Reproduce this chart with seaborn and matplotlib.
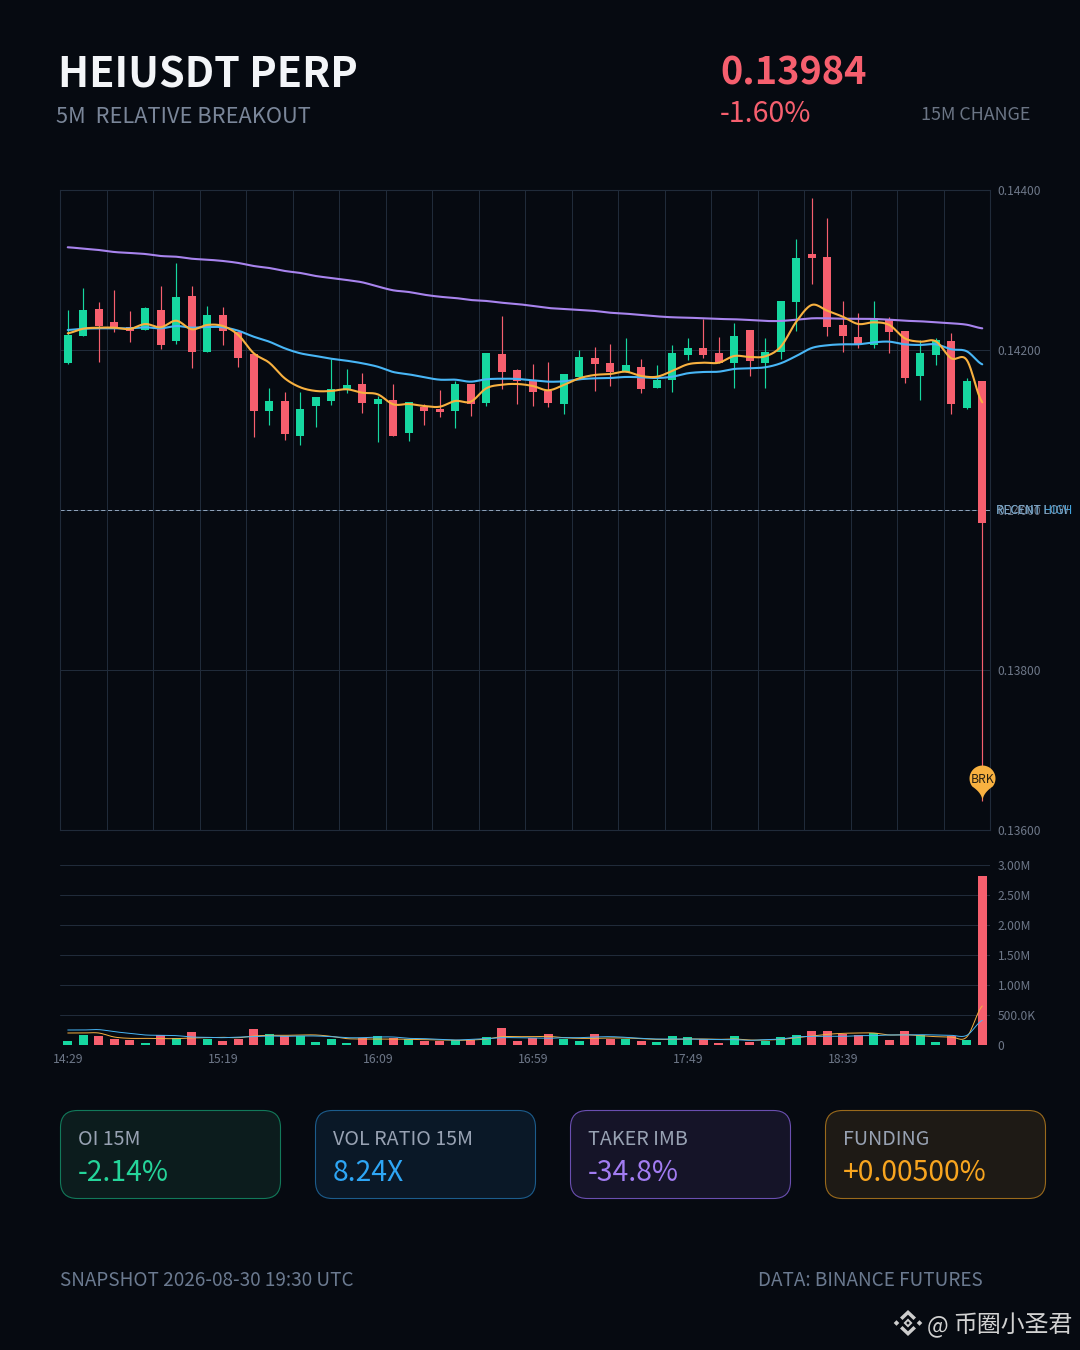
import numpy as np
import pandas as pd
import matplotlib
matplotlib.use("Agg")
import matplotlib.pyplot as plt
from matplotlib.patches import FancyBboxPatch, Polygon
from matplotlib.path import Path
import seaborn as sns

# ---------- data ----------
opens = [0.14184,0.14218,0.14251,0.14235,0.14229,0.14225,0.14250,0.14211,0.14268,0.14198,0.14244,0.14223,0.14195,0.14124,0.14136,0.14093,0.14130,0.14136,0.14150,0.14158,
         0.14133,0.14138,0.14096,0.14129,0.14126,0.14124,0.14158,0.14134,0.14195,0.14175,0.14161,0.14149,0.14133,0.14166,0.14190,0.14184,0.14173,0.14179,0.14153,0.14163,
         0.14194,0.14203,0.14196,0.14184,0.14225,0.14184,0.14198,0.14260,0.14320,0.14316,0.14231,0.14216,0.14206,0.14238,0.14224,0.14168,0.14194,0.14211,0.14128,0.14161]
highs = [0.14250,0.14278,0.14260,0.14275,0.14249,0.14254,0.14280,0.14309,0.14280,0.14255,0.14254,0.14223,0.14195,0.14153,0.14148,0.14148,0.14141,0.14189,0.14176,0.14171,
         0.14143,0.14158,0.14135,0.14133,0.14150,0.14161,0.14158,0.14196,0.14243,0.14176,0.14183,0.14185,0.14170,0.14200,0.14204,0.14208,0.14215,0.14189,0.14181,0.14206,
         0.14215,0.14239,0.14216,0.14234,0.14225,0.14215,0.14261,0.14339,0.14390,0.14365,0.14261,0.14246,0.14261,0.14241,0.14224,0.14213,0.14215,0.14221,0.14165,0.14161]
lows = [0.14183,0.14218,0.14185,0.14223,0.14210,0.14225,0.14201,0.14208,0.14178,0.14198,0.14206,0.14179,0.14091,0.14106,0.14088,0.14081,0.14104,0.14131,0.14146,0.14121,
        0.14085,0.14093,0.14086,0.14106,0.14116,0.14103,0.14118,0.14130,0.14151,0.14133,0.14130,0.14129,0.14120,0.14164,0.14149,0.14155,0.14173,0.14146,0.14153,0.14148,
        0.14188,0.14190,0.14184,0.14153,0.14168,0.14153,0.14189,0.14224,0.14283,0.14218,0.14198,0.14203,0.14203,0.14196,0.14159,0.14138,0.14181,0.14120,0.14126,0.13636]
closes = [0.14219,0.14250,0.14230,0.14228,0.14224,0.14253,0.14206,0.14266,0.14198,0.14244,0.14224,0.14190,0.14124,0.14136,0.14095,0.14126,0.14141,0.14151,0.14156,0.14134,
          0.14139,0.14093,0.14135,0.14124,0.14123,0.14158,0.14133,0.14196,0.14173,0.14161,0.14148,0.14134,0.14170,0.14191,0.14183,0.14173,0.14181,0.14151,0.14163,0.14196,
          0.14203,0.14194,0.14184,0.14218,0.14186,0.14198,0.14261,0.14315,0.14315,0.14229,0.14218,0.14206,0.14240,0.14223,0.14165,0.14196,0.14213,0.14133,0.14161,0.13984]
ma_fast = [0.142209,0.142266,0.142279,0.142279,0.142263,0.142325,0.142284,0.142366,0.142259,0.142313,0.142300,0.142188,0.141959,0.141841,0.141646,0.141534,0.141488,0.141488,0.141509,0.141466,
           0.141446,0.141321,0.141325,0.141300,0.141291,0.141363,0.141354,0.141521,0.141566,0.141575,0.141550,0.141496,0.141563,0.141646,0.141688,0.141700,0.141729,0.141675,0.141666,0.141738,
           0.141821,0.141841,0.141841,0.141925,0.141913,0.141921,0.142041,0.142354,0.142563,0.142491,0.142416,0.142325,0.142346,0.142313,0.142146,0.142104,0.142109,0.141896,0.141875,0.141346]
ma_mid = [0.142250,0.142266,0.142271,0.142271,0.142271,0.142284,0.142271,0.142300,0.142279,0.142288,0.142284,0.142241,0.142166,0.142104,0.142021,0.141959,0.141925,0.141891,0.141866,0.141834,
          0.141791,0.141725,0.141696,0.141659,0.141629,0.141629,0.141604,0.141634,0.141641,0.141638,0.141621,0.141604,0.141609,0.141634,0.141646,0.141650,0.141663,0.141659,0.141650,0.141666,
          0.141709,0.141725,0.141729,0.141763,0.141771,0.141784,0.141834,0.141925,0.142025,0.142059,0.142071,0.142071,0.142096,0.142104,0.142071,0.142063,0.142071,0.142009,0.141984,0.141821]
ma_slow = [0.143284,0.143266,0.143250,0.143225,0.143213,0.143200,0.143175,0.143166,0.143141,0.143129,0.143113,0.143088,0.143050,0.143025,0.142988,0.142963,0.142925,0.142900,0.142875,0.142846,
           0.142794,0.142746,0.142725,0.142691,0.142666,0.142650,0.142625,0.142613,0.142591,0.142575,0.142550,0.142525,0.142513,0.142500,0.142488,0.142466,0.142454,0.142438,0.142421,0.142409,
           0.142404,0.142396,0.142388,0.142384,0.142375,0.142363,0.142363,0.142379,0.142396,0.142396,0.142391,0.142391,0.142388,0.142379,0.142366,0.142359,0.142346,0.142334,0.142316,0.142271]
volumes_k = [67,161,156,106,83,33,167,111,211,106,72,94,261,178,150,156,50,94,28,122,
             150,122,94,67,67,83,83,139,283,72,111,183,94,72,178,100,94,72,50,144,
             128,94,33,156,50,72,128,172,233,233,189,167,194,83,233,167,44,156,83,2820]
vol_ma_fast_k = [200,200,200,133,111,111,106,106,117,122,128,122,150,161,161,167,167,144,106,100,
                 100,100,94,89,83,78,83,100,139,139,139,144,122,111,111,117,117,106,94,94,
                 100,100,94,100,83,83,94,122,150,178,194,200,200,167,172,156,139,133,133,650]
vol_ma_mid_k = [250,250,256,222,194,167,161,156,133,128,122,133,139,150,144,150,150,139,122,122,
                133,133,111,106,94,83,94,106,122,122,117,111,122,122,133,139,128,111,100,100,
                100,94,89,89,78,89,100,133,144,144,144,156,156,167,167,172,167,161,161,411]
time_labels = ["14:29", "15:19", "16:09", "16:59", "17:49", "18:39"]
time_every = 10
price_ticks = [0.136, 0.138, 0.140, 0.142, 0.144]
vol_ticks = [0, 0.5e6, 1e6, 1.5e6, 2e6, 2.5e6, 3e6]
vol_tick_labels = ["0", "500.0K", "1.00M", "1.50M", "2.00M", "2.50M", "3.00M"]
level_price = 0.14000
breakout_low = lows[-1]
card_titles = ["OI 15M", "VOL RATIO 15M", "TAKER IMB", "FUNDING"]
card_values = ["-2.14%", "8.24X", "-34.8%", "+0.00500%"]

# ---------- style ----------
BG = "#060a11"
GRID = "#202b3a"
GREEN = "#16d7a0"
RED = "#f65f6e"
ORANGE = "#f8b140"
BLUE = "#48b6f6"
PURPLE = "#a884ee"
TICK = "#6d7788"

sns.set_theme(style="dark", rc={"figure.facecolor": BG, "axes.facecolor": BG})
plt.rcParams["font.family"] = ["Noto Sans CJK SC", "DejaVu Sans"]

W, H = 1080, 1350
fig = plt.figure(figsize=(W / 100, H / 100), dpi=100, facecolor=BG)

def px_axes(x0, y0, x1, y1, **kw):
    return fig.add_axes([x0 / W, 1 - y1 / H, (x1 - x0) / W, (y1 - y0) / H], **kw)

ax = px_axes(60, 190, 990, 830)
vax = px_axes(60, 865, 990, 1045)
over = px_axes(0, 0, W, H, zorder=10)
over.set_xlim(0, W)
over.set_ylim(H, 0)
over.axis("off")

idx = np.arange(len(opens))
df = pd.DataFrame({"i": idx, "open": opens, "high": highs, "low": lows, "close": closes,
                   "vol": np.array(volumes_k) * 1e3})
df["dir"] = np.where(df["close"] >= df["open"], "up", "down")
palette = {"up": GREEN, "down": RED}

def smooth(values, n=12):
    """Catmull-Rom rendering of a series so the line curves between its points."""
    y = np.asarray(values, float)
    p = np.r_[y[0], y, y[-1]]
    t = np.linspace(0, 1, n, endpoint=False)[:, None]
    p0, p1, p2, p3 = p[:-3, None].T, p[1:-2, None].T, p[2:-1, None].T, p[3:, None].T
    out = 0.5 * (2 * p1 + (p2 - p0) * t + (2 * p0 - 5 * p1 + 4 * p2 - p3) * t**2
                 + (3 * p1 - p0 - 3 * p2 + p3) * t**3)
    xs = (np.arange(len(y) - 1)[None, :] + t).T.ravel()
    return np.r_[xs, len(y) - 1], np.r_[out.T.ravel(), y[-1]]

# ---------- price panel ----------
for side, sdf in df.groupby("dir"):
    c = palette[side]
    ax.vlines(sdf["i"], sdf["low"], sdf["high"], color=c, lw=0.85, zorder=3)
    ax.bar(sdf["i"], (sdf["close"] - sdf["open"]).abs().clip(lower=3e-5),
           bottom=sdf[["open", "close"]].min(axis=1), width=0.52, color=c, lw=0, zorder=4)

for series, colour, z in [(ma_slow, PURPLE, 5), (ma_mid, BLUE, 6), (ma_fast, ORANGE, 7)]:
    xs, ys = smooth(series)
    sns.lineplot(x=xs, y=ys, ax=ax, color=colour, lw=1.5, zorder=z, estimator=None, sort=False)

ax.set_xlim(-0.5, 59.5)
ax.set_ylim(0.136, 0.144)
ax.set_xticks(np.arange(-0.5, 60, 3))
ax.set_xticklabels([])
ax.set_yticks(price_ticks)
ax.set_yticklabels([f"{p:.5f}" for p in price_ticks])
ax.yaxis.tick_right()
ax.tick_params(axis="x", length=0)
ax.tick_params(axis="y", length=0, pad=5.5, labelsize=8.7, labelcolor=TICK)
ax.grid(True, color=GRID, lw=0.75)
ax.set_axisbelow(True)
for s in ax.spines.values():
    s.set_visible(True)
    s.set_color(GRID)
    s.set_linewidth(0.8)
ax.set_xlabel("")
ax.set_ylabel("")

# reference levels
ax.axhline(level_price, color=BLUE, lw=0.7, ls=(0, (4, 3)), alpha=0.7, zorder=2)
ax.axhline(level_price, color="#94a3b8", lw=0.7, ls=(0, (4, 3)), zorder=2)
for label, colour in [("RECENT HIGH", BLUE), ("RECENT LOW", "#8aa0b8")]:
    ax.annotate(label, xy=(1, level_price), xycoords=ax.get_yaxis_transform(),
                xytext=(4.0, 0), textcoords="offset points", va="center", ha="left",
                fontsize=8.5, color=colour, alpha=0.9, annotation_clip=False)

# breakout pin: tip anchored on the candle's low
r, cy = 13.0, 23.0
th = np.radians(np.linspace(-38, 218, 60))
cx_arc, cy_arc = r * np.cos(th), cy + r * np.sin(th)
s = np.linspace(0, 1, 12)
ctrl = np.array([0.0, 8.0])
right = np.array([cx_arc[0], cy_arc[0]])
tail_r = np.outer((1 - s)**2, [0, 0]) + np.outer(2 * s * (1 - s), ctrl) + np.outer(s**2, right)
verts = np.vstack([tail_r, np.c_[cx_arc, cy_arc], tail_r[::-1][:-1] * [-1, 1]])
pin = Path(np.vstack([verts, verts[0]]), closed=True)
ax.plot([59], [breakout_low], marker=pin, ms=51.8, mfc=ORANGE, mec="none", zorder=9, clip_on=False, ls="none")
ax.annotate("BRK", xy=(59, breakout_low), xytext=(0, 15.6), textcoords="offset points",
            ha="center", va="center", fontsize=8.8, color="#2a2112", zorder=10, annotation_clip=False)

# ---------- volume panel ----------
sns.barplot(data=df, x="i", y="vol", hue="dir", palette=palette, dodge=False, width=0.56,
            saturation=1, legend=False, ax=vax, lw=0, zorder=3)
for series, colour, z in [(vol_ma_mid_k, BLUE, 5), (vol_ma_fast_k, ORANGE, 4)]:
    xs, ys = smooth(np.array(series) * 1e3)
    sns.lineplot(x=xs, y=ys, ax=vax, color=colour, lw=0.7, zorder=z, estimator=None, sort=False)
vax.set_xlim(-0.5, 59.5)
vax.set_ylim(0, 3e6)
vax.set_yticks(vol_ticks)
vax.set_yticklabels(vol_tick_labels)
vax.yaxis.tick_right()
vax.set_xticks(idx[::time_every])
vax.set_xticklabels(time_labels)
vax.tick_params(axis="x", length=0, pad=6, labelsize=8.8, labelcolor=TICK)
vax.tick_params(axis="y", length=0, pad=5.5, labelsize=8.7, labelcolor=TICK)
vax.grid(True, axis="y", color=GRID, lw=0.75)
vax.grid(False, axis="x")
vax.set_axisbelow(True)
for s in vax.spines.values():
    s.set_visible(False)
vax.set_xlabel("")
vax.set_ylabel("")

# ---------- header ----------
FONT_HEAD = ["Noto Sans CJK SC", "DejaVu Sans"]
over.text(58, 88, "HEIUSDT PERP", fontsize=29.7, fontweight="bold", color="#f3f5f8", family=FONT_HEAD)
over.text(56, 123, "5M  RELATIVE BREAKOUT", fontsize=15.7, color="#7a8699", family=FONT_HEAD)
over.text(720, 84.5, "0.13984", fontsize=27.3, fontweight="bold", color=RED, family=FONT_HEAD)
over.text(720, 122, "-1.60%", fontsize=20.5, color=RED, family=FONT_HEAD)
over.text(1030, 120, "15M CHANGE", fontsize=12.9, color="#6b7585", ha="right", family=FONT_HEAD)

# ---------- cards ----------
cards_x = [60, 315, 570, 825]
card_faces = ["#0c1c1d", "#0a1827", "#151428", "#1e1a15"]
card_edges = ["#12795a", "#1c5c8c", "#6a4fb0", "#9a6a1c"]
card_colors = ["#25d59a", "#2ea6f5", "#a27cf2", "#f8a51f"]
for x, t, v, fc, ec, vc in zip(cards_x, card_titles, card_values, card_faces, card_edges, card_colors):
    over.add_patch(FancyBboxPatch((x + 0.5, 1110.5), 220, 88, boxstyle="round,pad=0,rounding_size=17",
                                  fc=fc, ec=ec, lw=0.8))
    over.text(x + 18, 1145, t, fontsize=14.2, color="#98a2b3", family=FONT_HEAD)
    over.text(x + 18, 1181, v, fontsize=20.4, color=vc, family=FONT_HEAD)

# ---------- footer ----------
over.text(60, 1286, "SNAPSHOT 2026-08-30 19:30 UTC", fontsize=13.65, color="#6b7a90", family=FONT_HEAD)
over.text(983, 1286, "DATA: BINANCE FUTURES", fontsize=13.65, color="#6b7a90", ha="right", family=FONT_HEAD)

# watermark
LOGO = "#cdcdcd"
lx, ly = 908, 1323
for dx in (-11.5, 11.5):
    d = 2.8
    over.add_patch(Polygon([(lx + dx - d, ly), (lx + dx, ly - d), (lx + dx + d, ly), (lx + dx, ly + d)], fc=LOGO, ec="none"))
over.add_patch(Polygon([(lx - 4.5, ly), (lx, ly - 4.5), (lx + 4.5, ly), (lx, ly + 4.5), (lx - 4.5, ly),
                        (lx - 1.8, ly), (lx, ly + 1.8), (lx + 1.8, ly), (lx, ly - 1.8), (lx - 1.8, ly)], fc=LOGO, ec="none"))
for sgn in (-1, 1):
    over.add_patch(Polygon([(lx - 8, ly + sgn * 5.5), (lx, ly + sgn * 13), (lx + 8, ly + sgn * 5.5),
                            (lx + 5.5, ly + sgn * 3), (lx, ly + sgn * 8.3), (lx - 5.5, ly + sgn * 3)],
                           fc=LOGO, ec="none"))
over.text(927, 1332, "@", fontsize=16.5, color="#d2d2d2", family=FONT_HEAD)
over.text(953, 1332, "币圈小圣君", fontsize=17.2, color="#d2d2d2", family=FONT_HEAD)

fig.savefig("out.png", dpi=100, facecolor=BG)
